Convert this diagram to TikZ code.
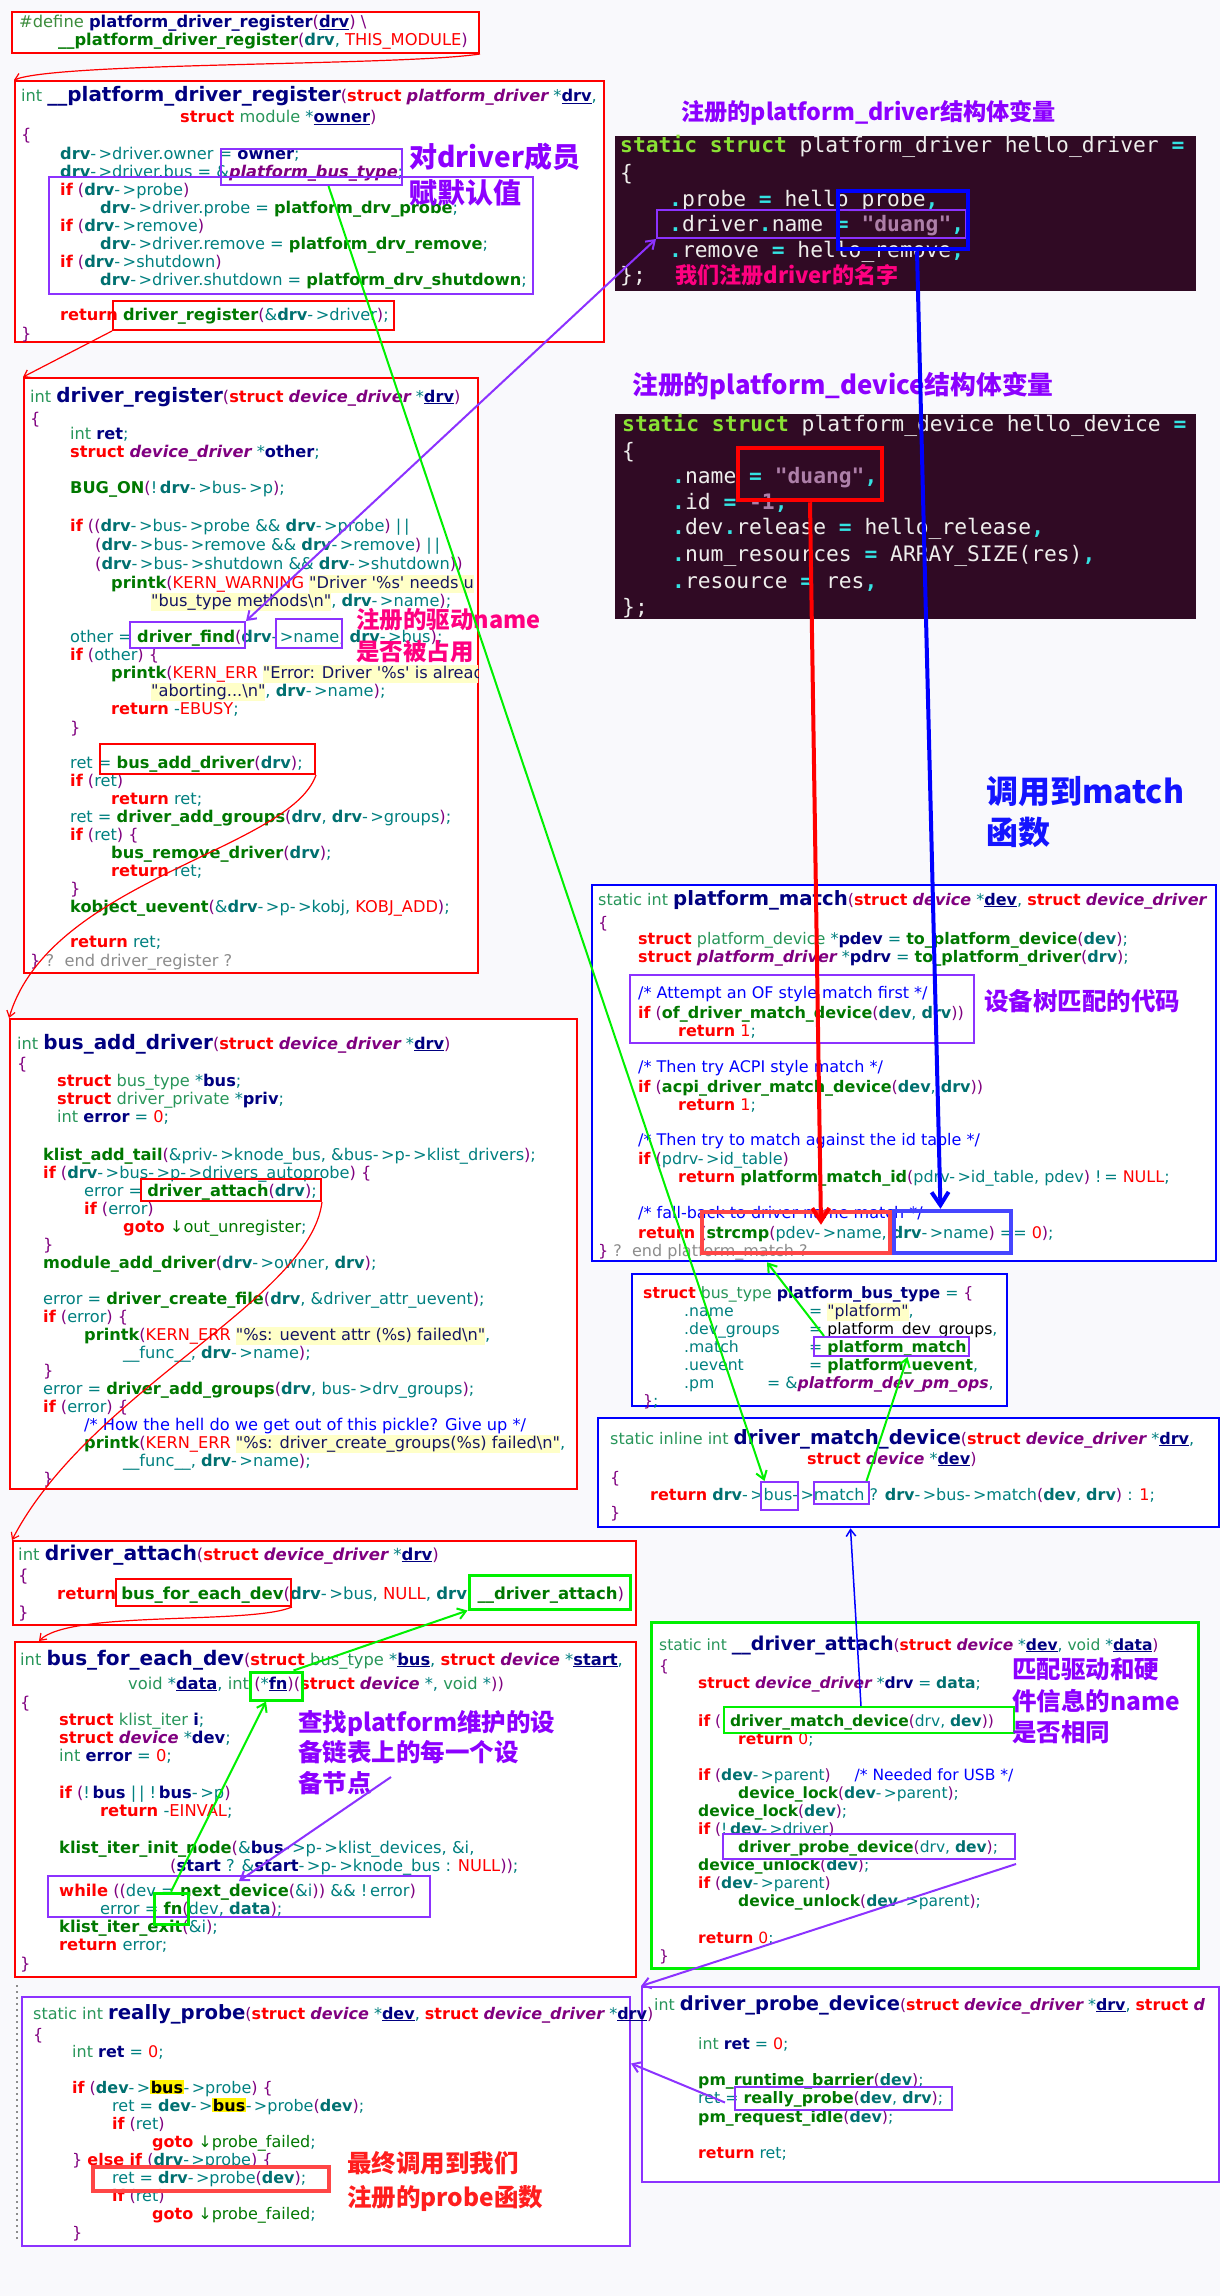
\documentclass[tikz,border=0pt]{standalone}
\usepackage{fontspec}
\usepackage{xcolor}
\setmainfont{DejaVu Sans}
\newfontfamily\codefont{DejaVu Sans}[Ligatures=TeXOff]
\newfontfamily\termfont{DejaVu Sans Mono}[Ligatures=TeXOff]
\newfontfamily\cjkfont{Noto Sans CJK SC}
\usetikzlibrary{positioning,fit,arrows.meta}

% source browser colours
\definecolor{cRed}{RGB}{255,0,0}
\definecolor{cType}{RGB}{40,150,90}
\definecolor{cPurp}{RGB}{128,0,128}
\definecolor{cFn}{RGB}{0,120,0}
\definecolor{cNavy}{RGB}{0,0,128}
\definecolor{cVar}{RGB}{0,112,112}
\definecolor{cTeal}{RGB}{0,128,128}
\definecolor{cCmt}{RGB}{0,0,255}
\definecolor{cStr}{RGB}{20,20,100}
\definecolor{cStrBg}{RGB}{255,255,200}
\definecolor{cPunc}{RGB}{128,0,128}
\definecolor{cGray}{RGB}{140,140,140}
\definecolor{cPre}{RGB}{60,140,60}
% terminal colours
\definecolor{tBg}{RGB}{48,10,36}
\definecolor{tGreen}{RGB}{138,226,52}
\definecolor{tCyan}{RGB}{52,226,226}
\definecolor{tStr}{RGB}{173,127,168}
\definecolor{tWhite}{RGB}{238,238,236}
% marks
\definecolor{hlPurple}{RGB}{140,50,255}
\definecolor{hlGreen}{RGB}{0,240,0}
\definecolor{hlBlue}{RGB}{0,0,255}
\definecolor{hlLRed}{RGB}{255,70,70}
\definecolor{hlLBlue}{RGB}{70,70,255}
\definecolor{notePurple}{RGB}{140,0,255}
\definecolor{notePink}{RGB}{255,0,128}
\definecolor{noteBlue}{RGB}{20,20,255}
\definecolor{noteRed}{RGB}{255,30,30}
\definecolor{pageBg}{RGB}{249,249,252}

\makeatletter
\newcommand\cfd[1]{{\color{cNavy}\bfseries\fontsize{\strip@pt\dimexpr\f@size pt*16/13\relax}{18}\selectfont #1}}
\makeatother
\newcommand\ckw[1]{{\color{cRed}\bfseries #1}}
\newcommand\cty[1]{{\color{cType}#1}}
\newcommand\cst[1]{{\color{cPurp}\bfseries\itshape #1}}
\newcommand\cfn[1]{{\color{cFn}\bfseries #1}}
\newcommand\cvd[1]{{\color{cNavy}\bfseries #1}}
\newcommand\cpa[1]{{\color{cNavy}\bfseries\underline{#1}}}
\newcommand\cvr[1]{{\color{cVar}\bfseries #1}}
\newcommand\cnu[1]{{\color{cRed}#1}}
\newcommand\ccm[1]{{\color{cCmt}#1}}
\newcommand\cstr[1]{{\setlength\fboxsep{0pt}\colorbox{cStrBg}{\strut\color{cStr}#1}}}
\newcommand\cpu[1]{{\color{cPunc}#1}}
\newcommand\cpo{\cpu{(}}
\newcommand\cpc{\cpu{)}}
\newcommand\carr{-\hspace{.15em}>}
\newcommand\cbus{{\setlength\fboxsep{0.5pt}\colorbox{yellow}{\color{black}\bfseries bus}}}
\newcommand\tgr[1]{{\color{tGreen}\bfseries #1}}
\newcommand\tcy[1]{{\color{tCyan}\bfseries #1}}
\newcommand\tst[1]{{\color{tStr}\bfseries #1}}

\begin{document}
\begin{tikzpicture}[x=1pt, y=-1pt, >={Straight Barb[length=3pt 2.5, width=5pt 3]},
  ln/.style={font=\codefont\fontsize{15.5}{18.2}\selectfont, text=cTeal, anchor=base west, inner sep=0pt},
  sz/.style={ln/.append style={font=\codefont\fontsize{#1}{18.2}\selectfont}},
  tln/.style={font=\termfont\fontsize{21.3}{26}\selectfont, text=tWhite, anchor=base west, inner sep=0pt},
  redbox/.style={draw=cRed, line width=2pt, fill=white, inner sep=0pt},
  bluebox/.style={draw=hlBlue, line width=2.5pt, fill=white, inner sep=0pt},
  greenbox/.style={draw=hlGreen, line width=3pt, fill=white, inner sep=0pt},
  purplebox/.style={draw=hlPurple, line width=2pt, fill=white, inner sep=0pt},
  termbox/.style={fill=tBg, inner sep=0pt},
  hlred/.style={draw=cRed, line width=2pt, inner sep=0pt},
  hlpurple/.style={draw=hlPurple, line width=2pt, inner sep=0pt},
  hlgreen/.style={draw=hlGreen, line width=3pt, inner sep=0pt},
  hlfat/.style={line width=4.5pt, inner sep=0pt},
  note/.style={font=\cjkfont\bfseries\fontsize{24.5}{31.5}\selectfont, align=left, anchor=north west, inner sep=0pt, text=notePurple},
  link/.style={->, line width=1.2pt}]
\useasboundingbox (0,0) rectangle (1220,2296);
\fill[pageBg] (0,0) rectangle (1220,2296);

% #define
\begin{scope}[sz=16.3]
\node[redbox, fit={(12,12) (479,53)}] (defbox) {};
\node[ln] (def1) at (19,28) {{\color{cPre}\#define} \cvd{platform\_driver\_register}\cpo\cpa{drv}\cpc{} \cpu{\textbackslash}};
\node[ln] (def2) at (58,46) {\cfn{\_\_platform\_driver\_register}\cpo\cvr{drv}, \cnu{THIS\_MODULE}\cpc};
\end{scope}

% __platform_driver_register
\begin{scope}[sz=16.2]
\node[redbox, fit={(15,81) (604,342)}] (pdrbox) {};
\node[ln] (pdr0) at (21,102) {\cty{int} \cfd{\_\_platform\_driver\_register}\cpo\ckw{struct} \cst{platform\_driver} *\cpa{drv},};
\node[ln] (pdr1) at (180,123) {\ckw{struct} \cty{module} *\cpa{owner}\cpc};
\node[ln] (pdr2) at (21,141) {\cpu{\{}};
\node[ln] (pdr3) at (60,159) {\cvr{drv}\carr driver.owner = \cvd{owner};};
\node[ln] (pdr4) at (60,177) {\cvr{drv}\carr driver.bus = \&\cst{platform\_bus\_type};};
\node[ln] (pdr5) at (60,195) {\ckw{if} \cpo\cvr{drv}\carr probe\cpc};
\node[ln] (pdr6) at (100,213) {\cvr{drv}\carr driver.probe = \cfn{platform\_drv\_probe};};
\node[ln] (pdr7) at (60,231) {\ckw{if} \cpo\cvr{drv}\carr remove\cpc};
\node[ln] (pdr8) at (100,249) {\cvr{drv}\carr driver.remove = \cfn{platform\_drv\_remove};};
\node[ln] (pdr9) at (60,267) {\ckw{if} \cpo\cvr{drv}\carr shutdown\cpc};
\node[ln] (pdr10) at (100,285) {\cvr{drv}\carr driver.shutdown = \cfn{platform\_drv\_shutdown};};
\node[ln] (pdr11) at (60,320) {\ckw{return} \cfn{driver\_register}\cpo\&\cvr{drv}\carr driver\cpc;};
\node[ln] (pdr12) at (21,339) {\cpu{\}}};
\node[hlpurple, fit={(221,149) (402,185)}] (hlbustype) {};
\node[hlpurple, fit={(49,177) (533,294)}] (hldefaults) {};
\node[hlred, fit={(113,301) (394,330)}] (hldrvreg) {};
\end{scope}

% hello_driver
\node[termbox, fit={(615,136) (1196,291)}] (hdrvbox) {};
\node[tln] (hdrv0) at (620,153) {\tgr{static struct} platform\_driver hello\_driver \tcy{=}};
\node[tln] (hdrv1) at (620,180) {\{};
\node[tln] (hdrv2) at (669,206) {\tcy{.}probe \tcy{=} hello\_probe\tcy{,}};
\node[tln] (hdrv3) at (669,231) {\tcy{.}driver\tcy{.}name \tcy{=} \tst{"duang"}\tcy{,}};
\node[tln] (hdrv4) at (669,257) {\tcy{.}remove \tcy{=} hello\_remove\tcy{,}};
\node[tln] (hdrv5) at (620,282) {\};};
\node[hlpurple, fit={(657,210) (966,238)}] (hldrvname) {};
\node[hlfat, draw=hlBlue, fit={(838,191) (968,249)}] (hlduang) {};

% hello_device
\node[termbox, fit={(615,414) (1196,619)}] (hdevbox) {};
\node[tln] (hdev0) at (622,431) {\tgr{static struct} platform\_device hello\_device \tcy{=}};
\node[tln] (hdev1) at (622,458) {\{};
\node[tln] (hdev2) at (672,483) {\tcy{.}name \tcy{=} \tst{"duang"}\tcy{,}};
\node[tln] (hdev3) at (672,509) {\tcy{.}id \tcy{=} \tst{-1}\tcy{,}};
\node[tln] (hdev4) at (672,534) {\tcy{.}dev\tcy{.}release \tcy{=} hello\_release\tcy{,}};
\node[tln] (hdev5) at (672,561) {\tcy{.}num\_resources \tcy{=} ARRAY\_SIZE(res)\tcy{,}};
\node[tln] (hdev6) at (672,588) {\tcy{.}resource \tcy{=} res\tcy{,}};
\node[tln] (hdev7) at (622,614) {\};};
\node[hlfat, draw=cRed, fit={(738,448) (882,500)}] (hldevname) {};

% platform_match
\begin{scope}[sz=16]
\node[bluebox, fit={(592,885) (1216,1261)}] (pmatchbox) {};
\node[ln] (pm0) at (598,905) {\cty{static int} \cfd{platform\_match}\cpo\ckw{struct} \cst{device} *\cpa{dev}, \ckw{struct} \cst{device\_driver}};
\node[ln] (pm1) at (598,928) {\cpu{\{}};
\node[ln] (pm2) at (638,944) {\ckw{struct} \cty{platform\_device} *\cvd{pdev} = \cfn{to\_platform\_device}\cpo\cvr{dev}\cpc;};
\node[ln] (pm3) at (638,962) {\ckw{struct} \cst{platform\_driver} *\cvd{pdrv} = \cfn{to\_platform\_driver}\cpo\cvr{drv}\cpc;};
\node[ln] (pm4) at (638,998) {\ccm{/* Attempt an OF style match first */}};
\node[ln] (pm5) at (638,1018) {\ckw{if} \cpo\cfn{of\_driver\_match\_device}\cpo\cvr{dev}, \cvr{drv}\cpc\cpc};
\node[ln] (pm6) at (678,1036) {\ckw{return} \cnu{1};};
\node[ln] (pm7) at (638,1072) {\ccm{/* Then try ACPI style match */}};
\node[ln] (pm8) at (638,1092) {\ckw{if} \cpo\cfn{acpi\_driver\_match\_device}\cpo\cvr{dev}, \cvr{drv}\cpc\cpc};
\node[ln] (pm9) at (678,1110) {\ckw{return} \cnu{1};};
\node[ln] (pm10) at (638,1145) {\ccm{/* Then try to match against the id table */}};
\node[ln] (pm11) at (638,1164) {\ckw{if} \cpo pdrv\carr id\_table\cpc};
\node[ln] (pm12) at (678,1182) {\ckw{return} \cfn{platform\_match\_id}\cpo pdrv\carr id\_table, pdev\cpc{} !\,= \cnu{NULL};};
\node[ln] (pm13) at (638,1218) {\ccm{/* fall-back to driver name match */}};
\node[ln] (pm14) at (638,1238) {\ckw{return} \cpo\cfn{strcmp}\cpo pdev\carr name, \cvr{drv}\carr name\cpc{} == \cnu{0}\cpc;};
\node[ln] (pm15) at (598,1256) {\cpu{\}} {\color{cGray}?~~end platform\_match ?}};
\node[hlpurple, fit={(630,975) (974,1043)}] (hlof) {};
\node[hlfat, draw=hlLRed, fit={(702,1212) (890,1253)}] (hlstrcmp) {};
\node[hlfat, draw=hlLBlue, fit={(894,1211) (1011,1253)}] (hldrvname2) {};
\end{scope}

% platform_bus_type
\begin{scope}[sz=15.7]
\node[bluebox, fit={(632,1274) (1007,1406)}] (pbtbox) {};
\node[ln] (pbt0) at (643,1298) {\ckw{struct} \cty{bus\_type} \cvd{platform\_bus\_type} = \cpu{\{}};
\node[ln] (pbt1) at (684,1316) {\makebox[125pt][l]{.name}= \cstr{"platform"},};
\node[ln] (pbt2) at (684,1334) {\makebox[125pt][l]{.dev\_groups}= {\color{black}platform\_dev\_groups},};
\node[ln] (pbt3) at (684,1352) {\makebox[125pt][l]{.match}= \cfn{platform\_match},};
\node[ln] (pbt4) at (684,1370) {\makebox[125pt][l]{.uevent}= \cfn{platform\_uevent},};
\node[ln] (pbt5) at (684,1388) {\makebox[83pt][l]{.pm}= \&\cst{platform\_dev\_pm\_ops},};
\node[ln] (pbt6) at (643,1406) {\cpu{\}};};
\node[hlpurple, fit={(814,1337) (969,1356)}] (hlmatch) {};
\end{scope}

% driver_match_device
\begin{scope}[sz=16]
\node[bluebox, fit={(598,1418) (1219,1527)}] (dmdbox) {};
\node[ln] (dmd0) at (610,1444) {\cty{static inline int} \cfd{driver\_match\_device}\cpo\ckw{struct} \cst{device\_driver} *\cpa{drv},};
\node[ln] (dmd1) at (807,1464) {\ckw{struct} \cst{device} *\cpa{dev}\cpc};
\node[ln] (dmd2) at (610,1483) {\cpu{\{}};
\node[ln] (dmd3) at (650,1500) {\ckw{return} \cvr{drv}\carr bus\carr match ? \cvr{drv}\carr bus\carr match\cpo\cvr{dev}, \cvr{drv}\cpc{} : \cnu{1};};
\node[ln] (dmd4) at (610,1518) {\cpu{\}}};
\node[hlpurple, fit={(761,1482) (798,1510)}] (hlbus) {};
\node[hlpurple, fit={(814,1482) (869,1504)}] (hldmatch) {};
\end{scope}

% driver_register
\node[redbox, fit={(24,378) (478,973)}] (drvregbox) {};
\begin{scope}[sz=16.2]
\clip (24,378) rectangle (478,973);
\node[ln] (dr0) at (30,402) {\cty{int} \cfd{driver\_register}\cpo\ckw{struct} \cst{device\_driver} *\cpa{drv}\cpc};
\node[ln] (dr1) at (30,424) {\cpu{\{}};
\node[ln] (dr2) at (70,439) {\cty{int} \cvd{ret};};
\node[ln] (dr3) at (70,457) {\ckw{struct} \cst{device\_driver} *\cvd{other};};
\node[ln] (dr4) at (70,493) {\cfn{BUG\_ON}\cpo!\,\cvr{drv}\carr bus\carr p\cpc;};
\node[ln] (dr5) at (70,531) {\ckw{if} \cpo\cpo\cvr{drv}\carr bus\carr probe \&\& \cvr{drv}\carr probe\cpc{} |\,|};
\node[ln] (dr6) at (95,550) {\cpo\cvr{drv}\carr bus\carr remove \&\& \cvr{drv}\carr remove\cpc{} |\,|};
\node[ln] (dr7) at (95,569) {\cpo\cvr{drv}\carr bus\carr shutdown \&\& \cvr{drv}\carr shutdown\cpc\cpc};
\node[ln] (dr8) at (111,588) {\cfn{printk}\cpo\cnu{KERN\_WARNING} \cstr{"Driver '\%s' needs u}};
\node[ln] (dr9) at (151,606) {\cstr{"bus\_type methods\textbackslash n"}, \cvr{drv}\carr name\cpc;};
\node[ln] (dr10) at (70,642) {other = \cfn{driver\_find}\cpo\cvr{drv}\carr name, \cvr{drv}\carr bus\cpc;};
\node[ln] (dr11) at (70,660) {\ckw{if} \cpo other\cpc{} \cpu{\{}};
\node[ln] (dr12) at (111,678) {\cfn{printk}\cpo\cnu{KERN\_ERR} \cstr{"Error: Driver '\%s' is alread}};
\node[ln] (dr13) at (151,696) {\cstr{"aborting...\textbackslash n"}, \cvr{drv}\carr name\cpc;};
\node[ln] (dr14) at (111,714) {\ckw{return} -\cnu{EBUSY};};
\node[ln] (dr15) at (70,733) {\cpu{\}}};
\node[ln] (dr16) at (70,768) {ret = \cfn{bus\_add\_driver}\cpo\cvr{drv}\cpc;};
\node[ln] (dr17) at (70,786) {\ckw{if} \cpo ret\cpc};
\node[ln] (dr18) at (111,804) {\ckw{return} ret;};
\node[ln] (dr19) at (70,822) {ret = \cfn{driver\_add\_groups}\cpo\cvr{drv}, \cvr{drv}\carr groups\cpc;};
\node[ln] (dr20) at (70,840) {\ckw{if} \cpo ret\cpc{} \cpu{\{}};
\node[ln] (dr21) at (111,858) {\cfn{bus\_remove\_driver}\cpo\cvr{drv}\cpc;};
\node[ln] (dr22) at (111,876) {\ckw{return} ret;};
\node[ln] (dr23) at (70,894) {\cpu{\}}};
\node[ln] (dr24) at (70,912) {\cfn{kobject\_uevent}\cpo\&\cvr{drv}\carr p\carr kobj, \cnu{KOBJ\_ADD}\cpc;};
\node[ln] (dr25) at (70,947) {\ckw{return} ret;};
\node[ln] (dr26) at (30,966) {\cpu{\}} {\color{cGray}?~~end driver\_register ?}};
\end{scope}
\node[hlpurple, fit={(130,622) (245,648)}] (hlfind) {};
\node[hlpurple, fit={(276,619) (342,648)}] (hlname) {};
\node[hlred, fit={(100,744) (315,774)}] (hlbusadd) {};

% bus_add_driver
\begin{scope}[sz=16.2]
\node[redbox, fit={(10,1019) (577,1489)}] (busaddbox) {};
\node[ln] (bad0) at (17,1049) {\cty{int} \cfd{bus\_add\_driver}\cpo\ckw{struct} \cst{device\_driver} *\cpa{drv}\cpc};
\node[ln] (bad1) at (17,1069) {\cpu{\{}};
\node[ln] (bad2) at (57,1086) {\ckw{struct} \cty{bus\_type} *\cvd{bus};};
\node[ln] (bad3) at (57,1104) {\ckw{struct} \cty{driver\_private} *\cvd{priv};};
\node[ln] (bad4) at (57,1122) {\cty{int} \cvd{error} = \cnu{0};};
\node[ln] (bad5) at (43,1160) {\cfn{klist\_add\_tail}\cpo\&priv\carr knode\_bus, \&bus\carr p\carr klist\_drivers\cpc;};
\node[ln] (bad6) at (43,1178) {\ckw{if} \cpo\cvr{drv}\carr bus\carr p\carr drivers\_autoprobe\cpc{} \cpu{\{}};
\node[ln] (bad7) at (84,1196) {error = \cfn{driver\_attach}\cpo\cvr{drv}\cpc;};
\node[ln] (bad8) at (84,1214) {\ckw{if} \cpo error\cpc};
\node[ln] (bad9) at (123,1232) {\ckw{goto} {\color{cFn}↓out\_unregister};};
\node[ln] (bad10) at (43,1250) {\cpu{\}}};
\node[ln] (bad11) at (43,1268) {\cfn{module\_add\_driver}\cpo\cvr{drv}\carr owner, \cvr{drv}\cpc;};
\node[ln] (bad12) at (43,1304) {error = \cfn{driver\_create\_file}\cpo\cvr{drv}, \&driver\_attr\_uevent\cpc;};
\node[ln] (bad13) at (43,1322) {\ckw{if} \cpo error\cpc{} \cpu{\{}};
\node[ln] (bad14) at (84,1340) {\cfn{printk}\cpo\cnu{KERN\_ERR} \cstr{"\%s: uevent attr (\%s) failed\textbackslash n"},};
\node[ln] (bad15) at (123,1358) {\_\_func\_\_, \cvr{drv}\carr name\cpc;};
\node[ln] (bad16) at (43,1376) {\cpu{\}}};
\node[ln] (bad17) at (43,1394) {error = \cfn{driver\_add\_groups}\cpo\cvr{drv}, bus\carr drv\_groups\cpc;};
\node[ln] (bad18) at (43,1412) {\ckw{if} \cpo error\cpc{} \cpu{\{}};
\node[ln] (bad19) at (84,1430) {\ccm{/* How the hell do we get out of this pickle? Give up */}};
\node[ln] (bad20) at (84,1448) {\cfn{printk}\cpo\cnu{KERN\_ERR} \cstr{"\%s: driver\_create\_groups(\%s) failed\textbackslash n"},};
\node[ln] (bad21) at (123,1466) {\_\_func\_\_, \cvr{drv}\carr name\cpc;};
\node[ln] (bad22) at (43,1484) {\cpu{\}}};
\node[hlred, fit={(141,1179) (321,1201)}] (hlattach) {};
\end{scope}

% driver_attach
\begin{scope}[sz=16.5]
\node[redbox, fit={(13,1541) (636,1625)}] (drvattbox) {};
\node[ln] (da0) at (18,1560) {\cty{int} \cfd{driver\_attach}\cpo\ckw{struct} \cst{device\_driver} *\cpa{drv}\cpc};
\node[ln] (da1) at (18,1581) {\cpu{\{}};
\node[ln] (da2) at (57,1599) {\ckw{return} \cfn{bus\_for\_each\_dev}\cpo\cvr{drv}\carr bus, \cnu{NULL}, \cvr{drv}, \cfn{\_\_driver\_attach}\cpc};
\node[ln] (da3) at (18,1618) {\cpu{\}}};
\node[hlred, fit={(116,1579) (291,1606)}] (hlforeach) {};
\node[hlgreen, fit={(469,1575) (630,1609)}] (hldattach) {};
\end{scope}

% bus_for_each_dev
\begin{scope}[sz=16.3]
\node[redbox, fit={(15,1642) (636,1977)}] (foreachbox) {};
\node[ln] (fe0) at (20,1665) {\cty{int} \cfd{bus\_for\_each\_dev}\cpo\ckw{struct} \cty{bus\_type} *\cpa{bus}, \ckw{struct} \cst{device} *\cpa{start},};
\node[ln] (fe1) at (128,1689) {\cty{void} *\cpa{data}, \cty{int} \cpo*\cpa{fn}\cpc\cpo\ckw{struct} \cst{device} *, \cty{void} *\cpc\cpc};
\node[ln] (fe2) at (20,1708) {\cpu{\{}};
\node[ln] (fe3) at (59,1725) {\ckw{struct} \cty{klist\_iter} \cvd{i};};
\node[ln] (fe4) at (59,1743) {\ckw{struct} \cst{device} *\cvd{dev};};
\node[ln] (fe5) at (59,1761) {\cty{int} \cvd{error} = \cnu{0};};
\node[ln] (fe6) at (59,1798) {\ckw{if} \cpo!\,\cvd{bus} |\,| !\,\cvd{bus}\carr p\cpc};
\node[ln] (fe7) at (100,1816) {\ckw{return} -\cnu{EINVAL};};
\node[ln] (fe8) at (59,1853) {\cfn{klist\_iter\_init\_node}\cpo\&\cvd{bus}\carr p\carr klist\_devices, \&i,};
\node[ln] (fe9) at (170,1871) {\cpo\cvd{start} ? \&\cvd{start}\carr p\carr knode\_bus : \cnu{NULL}\cpc\cpc;};
\node[ln] (fe10) at (59,1896) {\ckw{while} \cpo\cpo dev = \cfn{next\_device}\cpo\&i\cpc\cpc{} \&\& !\,error\cpc};
\node[ln] (fe11) at (100,1914) {error = \cfn{fn}\cpo dev, \cvr{data}\cpc;};
\node[ln] (fe12) at (59,1932) {\cfn{klist\_iter\_exit}\cpo\&i\cpc;};
\node[ln] (fe13) at (59,1950) {\ckw{return} error;};
\node[ln] (fe14) at (20,1969) {\cpu{\}}};
\node[hlgreen, fit={(250,1672) (302,1700)}] (hlfnp) {};
\node[hlpurple, fit={(48,1876) (430,1917)}] (hlwhile) {};
\node[hlgreen, fit={(154,1893) (188,1924)}] (hlfn) {};
\end{scope}

% __driver_attach
\node[greenbox, fit={(651,1622) (1198,1968)}] (dattbox) {};
\node[ln] (dt0) at (659,1650) {\cty{static int} \cfd{\_\_driver\_attach}\cpo\ckw{struct} \cst{device} *\cpa{dev}, \cty{void} *\cpa{data}\cpc};
\node[ln] (dt1) at (659,1671) {\cpu{\{}};
\node[ln] (dt2) at (698,1688) {\ckw{struct} \cst{device\_driver} *\cvd{drv} = \cvr{data};};
\node[ln] (dt3) at (698,1726) {\ckw{if} \cpo!\,\cfn{driver\_match\_device}\cpo drv, \cvr{dev}\cpc\cpc};
\node[ln] (dt4) at (738,1744) {\ckw{return} \cnu{0};};
\node[ln] (dt5) at (698,1780) {\ckw{if} \cpo\cvr{dev}\carr parent\cpc\hspace{24pt}\ccm{/* Needed for USB */}};
\node[ln] (dt6) at (738,1798) {\cfn{device\_lock}\cpo\cvr{dev}\carr parent\cpc;};
\node[ln] (dt7) at (698,1816) {\cfn{device\_lock}\cpo\cvr{dev}\cpc;};
\node[ln] (dt8) at (698,1834) {\ckw{if} \cpo!\,\cvr{dev}\carr driver\cpc};
\node[ln] (dt9) at (738,1852) {\cfn{driver\_probe\_device}\cpo drv, \cvr{dev}\cpc;};
\node[ln] (dt10) at (698,1870) {\cfn{device\_unlock}\cpo\cvr{dev}\cpc;};
\node[ln] (dt11) at (698,1888) {\ckw{if} \cpo\cvr{dev}\carr parent\cpc};
\node[ln] (dt12) at (738,1906) {\cfn{device\_unlock}\cpo\cvr{dev}\carr parent\cpc;};
\node[ln] (dt13) at (698,1943) {\ckw{return} \cnu{0};};
\node[ln] (dt14) at (659,1961) {\cpu{\}}};
\node[hlgreen, line width=2pt, fit={(724,1707) (1014,1733)}] (hldmd) {};
\node[hlpurple, fit={(723,1834) (1015,1859)}] (hlprobedev) {};

% driver_probe_device
\begin{scope}[sz=15.8]
\node[purplebox, fit={(642,1987) (1219,2182)}] (dpdbox) {};
\node[ln] (dp0) at (654,2010) {\cty{int} \cfd{driver\_probe\_device}\cpo\ckw{struct} \cst{device\_driver} *\cpa{drv}, \ckw{struct} \cst{d}};
\node[ln] (dp1) at (698,2049) {\cty{int} \cvd{ret} = \cnu{0};};
\node[ln] (dp2) at (698,2085) {\cfn{pm\_runtime\_barrier}\cpo\cvr{dev}\cpc;};
\node[ln] (dp3) at (698,2103) {ret = \cfn{really\_probe}\cpo\cvr{dev}, \cvr{drv}\cpc;};
\node[ln] (dp4) at (698,2122) {\cfn{pm\_request\_idle}\cpo\cvr{dev}\cpc;};
\node[ln] (dp5) at (698,2158) {\ckw{return} ret;};
\node[hlpurple, fit={(735,2087) (952,2110)}] (hlreally) {};
\end{scope}

% really_probe
\begin{scope}[sz=16]
\draw[cGray, line width=1.5pt, dash pattern=on 2pt off 4pt] (17,1985) -- (17,2240);
\node[purplebox, fit={(22,1997) (630,2246)}] (reallybox) {};
\node[ln] (rp0) at (33,2019) {\cty{static int} \cfd{really\_probe}\cpo\ckw{struct} \cst{device} *\cpa{dev}, \ckw{struct} \cst{device\_driver} *\cpa{drv}\cpc};
\node[ln] (rp1) at (33,2040) {\cpu{\{}};
\node[ln] (rp2) at (72,2057) {\cty{int} \cvd{ret} = \cnu{0};};
\node[ln] (rp3) at (72,2093) {\ckw{if} \cpo\cvr{dev}\carr\cbus\carr probe\cpc{} \cpu{\{}};
\node[ln] (rp4) at (112,2111) {ret = \cvr{dev}\carr\cbus\carr probe\cpo\cvr{dev}\cpc;};
\node[ln] (rp5) at (112,2129) {\ckw{if} \cpo ret\cpc};
\node[ln] (rp6) at (152,2147) {\ckw{goto} {\color{cFn}↓probe\_failed};};
\node[ln] (rp7) at (72,2165) {\cpu{\}} \ckw{else if} \cpo\cvr{drv}\carr probe\cpc{} \cpu{\{}};
\node[ln] (rp8) at (112,2183) {ret = \cvr{drv}\carr probe\cpo\cvr{dev}\cpc;};
\node[ln] (rp9) at (112,2201) {\ckw{if} \cpo ret\cpc};
\node[ln] (rp10) at (152,2219) {\ckw{goto} {\color{cFn}↓probe\_failed};};
\node[ln] (rp11) at (72,2238) {\cpu{\}}};
\node[hlfat, draw=hlLRed, line width=4pt, fit={(93,2167) (329,2191)}] (hlprobe) {};
\end{scope}

% notes
\node[note, font=\cjkfont\bfseries\fontsize{28}{36}\selectfont] (notedefault) at (409,143) {对driver成员\\赋默认值};
\node[note, font=\cjkfont\bfseries\fontsize{23.2}{30}\selectfont] (notehdrv) at (681,100) {注册的platform\_driver结构体变量};
\node[note, text=notePink, font=\cjkfont\bfseries\fontsize{22.1}{30}\selectfont] (notename) at (675,264) {我们注册driver的名字};
\node[note, font=\cjkfont\bfseries\fontsize{25.8}{36}\selectfont] (notehdev) at (632,372) {注册的platform\_device结构体变量};
\node[note, text=notePink, font=\cjkfont\bfseries\fontsize{23.5}{32}\selectfont] (notebusy) at (356,608) {注册的驱动name\\是否被占用};
\node[note, text=noteBlue, font=\cjkfont\bfseries\fontsize{32}{41}\selectfont] (notematch) at (986,776) {调用到match\\函数};
\node[note] (noteof) at (984,989) {设备树匹配的代码};
\node[note, font=\cjkfont\bfseries\fontsize{24.5}{30.5}\selectfont] (noteforeach) at (298,1710) {查找platform维护的设\\备链表上的每一个设\\备节点};
\node[note] (notesame) at (1012,1658) {匹配驱动和硬\\件信息的name\\是否相同};
\node[note, text=noteRed, font=\cjkfont\bfseries\fontsize{24.5}{34}\selectfont] (noteprobe) at (347,2151) {最终调用到我们\\注册的probe函数};
\coordinate (notetail) at (391,1777);

% connectors
\draw[link, cRed] (defbox.south east) .. controls (400,66) and (60,62) .. (pdrbox.north west);
\draw[link, cRed] (hldrvreg.south west) -- (drvregbox.north west);
\draw[link, cRed] (hlbusadd.south east) .. controls (290,850) and (50,880) .. (busaddbox.north west);
\draw[link, cRed] (hlattach.south east) .. controls (310,1300) and (90,1390) .. (drvattbox.north west);
\draw[link, cRed] (hlforeach.south east) .. controls (250,1625) and (70,1610) .. ([xshift=25pt]foreachbox.north west);
\draw[link, hlPurple, <->, line width=2pt] (hldrvname.south west) -- (hlfind.north east);
\draw[link, hlGreen, line width=2pt] ([xshift=17pt]hlbustype.south) -- ([xshift=-15pt]hlbus.north);
\draw[link, hlBlue, line width=4pt] ([xshift=14pt]hlduang.south) -- ([xshift=-12pt]hldrvname2.north);
\draw[link, cRed, line width=4pt] (hldevname.south) -- ([xshift=25pt,yshift=-15pt]hlstrcmp.north);
\draw[link, hlGreen, line width=2pt] ([xshift=25pt]hldmatch.north) -- ([xshift=16pt]hlmatch.south);
\draw[link, hlGreen, line width=2pt] ([xshift=11pt]hlmatch.north west) -- ([xshift=-137pt]pmatchbox.south);
\draw[link, hlBlue, line width=1.5pt] ([xshift=-8pt]hldmd.north) -- ([xshift=-58pt]dmdbox.south);
\draw[link, hlGreen, line width=2pt] (hlfn.north) -- ([xshift=-10pt]hlfnp.south);
\draw[link, hlGreen, line width=2pt] ([xshift=-10pt]hlfnp.north east) -- (hldattach.south west);
\draw[link, hlPurple, line width=2pt] (notetail) -- ([yshift=-6pt]hlwhile.north);
\draw[link, hlPurple, line width=2pt] ([yshift=-4pt]hlprobedev.south east) -- (dpdbox.north west);
\draw[link, hlPurple, line width=2pt] ([xshift=-9pt,yshift=-4pt]hlreally.west) -- ([yshift=58pt]reallybox.east);
\end{tikzpicture}
\end{document}
